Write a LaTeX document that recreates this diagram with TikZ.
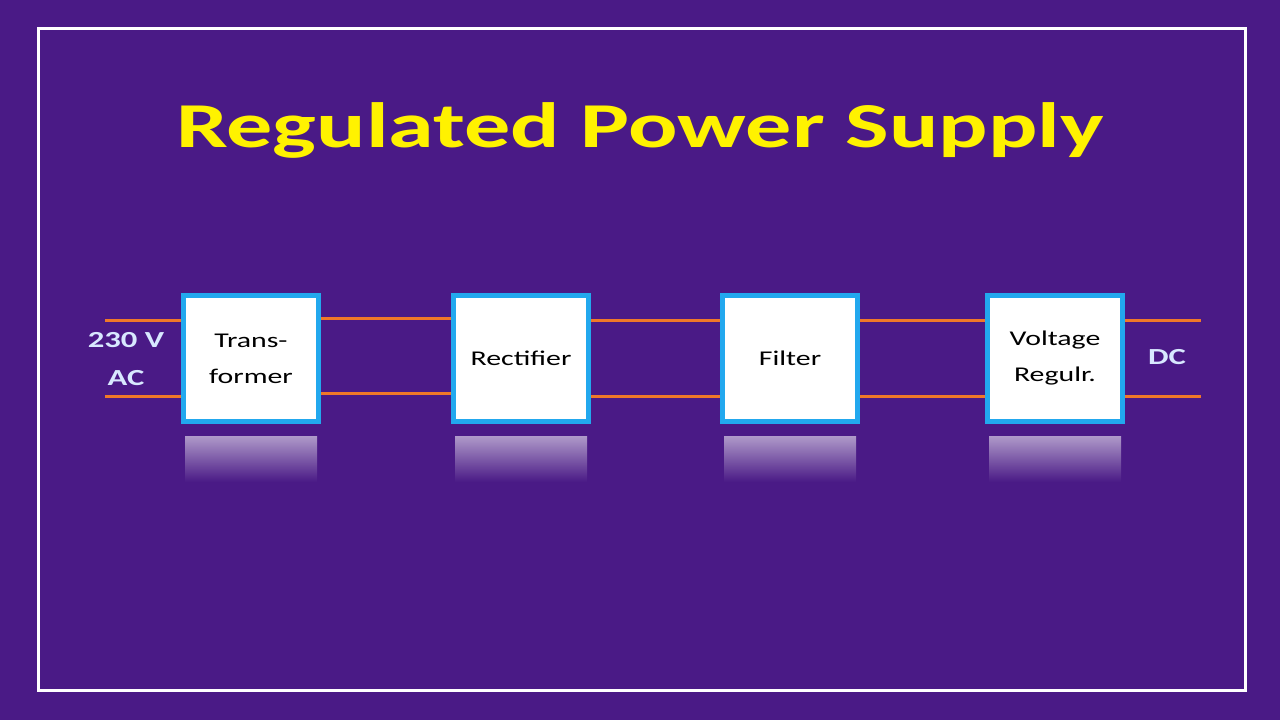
\documentclass[tikz,border=0pt]{standalone}
\usepackage{fontspec}
\setmainfont{Carlito}
\usetikzlibrary{calc}
\definecolor{bgp}{HTML}{4A1A86}
\definecolor{bord}{HTML}{22A8EE}
\definecolor{wire}{HTML}{F07828}
\definecolor{lbl}{HTML}{D8E8FF}
\newcommand{\wid}[1]{\scalebox{1.42}[1]{#1}}
\tikzset{
 blk/.style={draw=bord,line width=5pt,fill=white,minimum width=135pt,minimum height=126pt,inner sep=0pt,align=center,font=\fontsize{21}{36}\selectfont},
 wr/.style={draw=wire,line width=3pt},
 side/.style={text=lbl,font=\fontsize{23}{38}\selectfont\bfseries,align=center}
}
\begin{document}
\begin{tikzpicture}[x=1pt,y=-1pt]
\fill[bgp] (0,0) rectangle (1280,720);
\useasboundingbox (0,0) rectangle (1280,720);
\draw[white,line width=3pt] (38,28) rectangle (1245,690);
\node[text=yellow,font=\fontsize{64}{70}\selectfont\bfseries] (title) at (640,130) {\scalebox{1.44}[1]{Regulated Power Supply}};
\foreach \n/\x in {T/251,R/521,F/790,V/1055}{
  \shade[top color=white!70!bgp,bottom color=bgp,opacity=0.8] (\x-66,436) rectangle (\x+66,482);
}
\node[blk] (T) at (251,358.5) {\wid{Trans-}\\\wid{former}};
\node[blk] (R) at (521,358.5) {\wid{Rectifier}};
\node[blk] (F) at (790,358.5) {\wid{Filter}};
\node[blk] (V) at (1055,358.5) {\wid{Voltage}\\\wid{Regulr.}};
\coordinate (i1) at (105,320); \coordinate (i2) at (105,396);
\coordinate (o1) at (1201,320); \coordinate (o2) at (1201,396);
\draw[wr] (i1) -- (i1 -| T.west);
\draw[wr] (i2) -- (i2 -| T.west);
\draw[wr] ([yshift=-25pt]T.north east) -- ([yshift=-25pt]R.north west);
\draw[wr] ([yshift=31pt]T.south east) -- ([yshift=31pt]R.south west);
\draw[wr] ([yshift=-27pt]R.north east) -- ([yshift=-27pt]F.north west);
\draw[wr] ([yshift=28pt]R.south east) -- ([yshift=28pt]F.south west);
\draw[wr] ([yshift=-27pt]F.north east) -- ([yshift=-27pt]V.north west);
\draw[wr] ([yshift=28pt]F.south east) -- ([yshift=28pt]V.south west);
\draw[wr] (o1 -| V.east) -- (o1);
\draw[wr] (o2 -| V.east) -- (o2);
\node[side] (ac) at (126,359) {\wid{230 V}\\\wid{AC}};
\node[side] (dc) at (1167,357) {\wid{DC}};
\end{tikzpicture}
\end{document}
